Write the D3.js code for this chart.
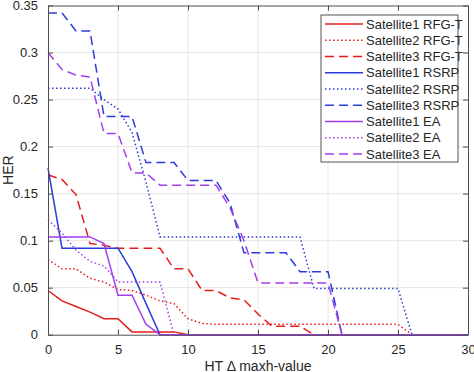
<!DOCTYPE html>
<html>
<head>
<meta charset="utf-8">
<script src="https://cdn.jsdelivr.net/npm/d3@7"></script>
<style>
  body { margin: 0; background: #fff; }
  text { font-family: "Liberation Sans", Arial, sans-serif; fill: #262626; }
</style>
</head>
<body>
<script>
// chart size
const width = 474;
const height = 372;
const margin = { left: 48, right: 6, top: 5.5, bottom: 37.3 };

// data: HER per HT value 0..30
const htValues = [0, 1, 2, 3, 4, 5, 6, 7, 8, 9, 10, 11, 12, 13, 14, 15, 16, 17, 18, 19, 20, 21, 22, 23, 24, 25, 26, 27, 28, 29, 30];
const sat1Rfg = [0.047, 0.036, 0.030, 0.024, 0.017, 0.017, 0.003, 0.003, 0.003, 0.003, 0, 0, 0, 0, 0, 0, 0, 0, 0, 0, 0, 0, 0, 0, 0, 0, 0, 0, 0, 0, 0];
const sat2Rfg = [0.080, 0.070, 0.070, 0.060, 0.056, 0.048, 0.047, 0.042, 0.036, 0.033, 0.017, 0.012, 0.011, 0.011, 0.011, 0.011, 0.011, 0.011, 0.011, 0.011, 0.011, 0.011, 0.011, 0.011, 0.011, 0.011, 0, 0, 0, 0, 0];
const sat3Rfg = [0.170, 0.165, 0.149, 0.097, 0.095, 0.092, 0.092, 0.092, 0.092, 0.070, 0.070, 0.047, 0.047, 0.039, 0.037, 0.022, 0.009, 0.009, 0.009, 0, 0, 0, 0, 0, 0, 0, 0, 0, 0, 0, 0];
const sat1Rsrp = [0.177, 0.092, 0.092, 0.092, 0.092, 0.092, 0.067, 0.033, 0, 0, 0, 0, 0, 0, 0, 0, 0, 0, 0, 0, 0, 0, 0, 0, 0, 0, 0, 0, 0, 0, 0];
const sat2Rsrp = [0.262, 0.262, 0.262, 0.262, 0.250, 0.240, 0.215, 0.162, 0.104, 0.104, 0.104, 0.104, 0.104, 0.104, 0.104, 0.104, 0.104, 0.104, 0.104, 0.049, 0.049, 0.049, 0.049, 0.049, 0.049, 0.049, 0, 0, 0, 0, 0];
const sat3Rsrp = [0.342, 0.342, 0.323, 0.323, 0.232, 0.232, 0.232, 0.183, 0.183, 0.183, 0.164, 0.164, 0.164, 0.140, 0.087, 0.087, 0.087, 0.087, 0.067, 0.067, 0.067, 0, 0, 0, 0, 0, 0, 0, 0, 0, 0];
const sat1Ea = [0.104, 0.104, 0.104, 0.104, 0.097, 0.042, 0.042, 0.011, 0, 0, 0, 0, 0, 0, 0, 0, 0, 0, 0, 0, 0, 0, 0, 0, 0, 0, 0, 0, 0, 0, 0];
const sat2Ea = [0.122, 0.108, 0.090, 0.078, 0.073, 0.056, 0.056, 0.056, 0.056, 0, 0, 0, 0, 0, 0, 0, 0, 0, 0, 0, 0, 0, 0, 0, 0, 0, 0, 0, 0, 0, 0];
const sat3Ea = [0.300, 0.282, 0.276, 0.274, 0.214, 0.214, 0.172, 0.172, 0.159, 0.159, 0.159, 0.159, 0.159, 0.135, 0.100, 0.055, 0.055, 0.055, 0.055, 0.055, 0.055, 0, 0, 0, 0, 0, 0, 0, 0, 0, 0];

const seriesNames = [
  "Satellite1 RFG-T", "Satellite2 RFG-T", "Satellite3 RFG-T",
  "Satellite1 RSRP", "Satellite2 RSRP", "Satellite3 RSRP",
  "Satellite1 EA", "Satellite2 EA", "Satellite3 EA",
];
const seriesValues = [sat1Rfg, sat2Rfg, sat3Rfg, sat1Rsrp, sat2Rsrp, sat3Rsrp, sat1Ea, sat2Ea, sat3Ea];
const xTicks = [0, 5, 10, 15, 20, 25, 30];
const yTicks = [0, 0.05, 0.1, 0.15, 0.2, 0.25, 0.3, 0.35];

const colors = { RFG: "#e61c1c", RSRP: "#2b3cdc", EA: "#a33ef0" };
const dashes = [null, "1.5,2.5", "9,5"];

const series = seriesNames.map((name, i) => ({
  name,
  color: colors[name.includes("RFG") ? "RFG" : name.includes("RSRP") ? "RSRP" : "EA"],
  dash: dashes[i % 3],
  points: htValues.map((h, k) => ({ x: h, y: seriesValues[i][k] })),
}));

const svg = d3.select("body").append("svg")
  .attr("width", width)
  .attr("height", height);

const x = d3.scaleLinear().domain([0, 30]).range([margin.left, width - margin.right]);
const y = d3.scaleLinear().domain([0, 0.35]).range([height - margin.bottom, margin.top]);

// grid
svg.append("g")
  .selectAll("line")
  .data(xTicks.slice(1, -1))
  .join("line")
  .attr("x1", (d) => x(d)).attr("x2", (d) => x(d))
  .attr("y1", y(0)).attr("y2", y(0.35))
  .attr("stroke", "#e6e6e6");
svg.append("g")
  .selectAll("line")
  .data(yTicks.slice(1, -1))
  .join("line")
  .attr("y1", (d) => y(d)).attr("y2", (d) => y(d))
  .attr("x1", x(0)).attr("x2", x(30))
  .attr("stroke", "#e6e6e6");

// lines
const line = d3.line().x((d) => x(d.x)).y((d) => y(d.y));
svg.append("g")
  .selectAll("path")
  .data(series)
  .join("path")
  .attr("d", (d) => line(d.points))
  .attr("fill", "none")
  .attr("stroke", (d) => d.color)
  .attr("stroke-width", 1.5)
  .attr("stroke-dasharray", (d) => d.dash);

// axes (box with inward ticks)
const axisColor = "#4d4d4d";
const styleAxis = (g) => {
  g.select(".domain").attr("stroke", axisColor);
  g.selectAll(".tick line").attr("stroke", axisColor);
  g.selectAll(".tick text").attr("font-size", 13).attr("fill", "#262626")
    .style("font-family", "'Liberation Sans', Arial, sans-serif");
};

svg.append("g")
  .attr("transform", `translate(0,${y(0)})`)
  .call(d3.axisBottom(x).tickValues(xTicks).tickSizeInner(-5).tickSizeOuter(0).tickPadding(10))
  .call(styleAxis);
svg.append("g")
  .attr("transform", `translate(0,${y(0.35)})`)
  .call(d3.axisTop(x).tickValues(xTicks).tickSizeInner(-5).tickSizeOuter(0).tickFormat(""))
  .call(styleAxis);
svg.append("g")
  .attr("transform", `translate(${x(0)},0)`)
  .call(d3.axisLeft(y).tickValues(yTicks).tickSizeInner(-5).tickSizeOuter(0).tickPadding(10).tickFormat(d3.format("~g")))
  .call(styleAxis);
svg.append("g")
  .attr("transform", `translate(${x(30)},0)`)
  .call(d3.axisRight(y).tickValues(yTicks).tickSizeInner(-5).tickSizeOuter(0).tickFormat(""))
  .call(styleAxis);

// axis titles
svg.append("text")
  .attr("x", (x(0) + x(30)) / 2)
  .attr("y", 371)
  .attr("text-anchor", "middle")
  .attr("font-size", 14)
  .text("HT Δ maxh-value");
svg.append("text")
  .attr("transform", `translate(13,${(y(0) + y(0.35)) / 2}) rotate(-90)`)
  .attr("text-anchor", "middle")
  .attr("font-size", 14)
  .text("HER");

// legend
const legend = svg.append("g").attr("transform", "translate(321,15)");
legend.append("rect")
  .attr("width", 137).attr("height", 147)
  .attr("fill", "#fff")
  .attr("stroke", "#262626")
  .attr("stroke-width", 0.8);
const rows = legend.selectAll("g.row")
  .data(series)
  .join("g")
  .attr("class", "row")
  .attr("transform", (d, i) => `translate(0,${9 + i * 16.25})`);
rows.append("line")
  .attr("x1", 4).attr("x2", 42)
  .attr("stroke", (d) => d.color)
  .attr("stroke-width", 1.5)
  .attr("stroke-dasharray", (d) => d.dash);
rows.append("text")
  .attr("x", 45)
  .attr("dy", "0.35em")
  .attr("font-size", 13)
  .text((d) => d.name);
</script>
</body>
</html>
